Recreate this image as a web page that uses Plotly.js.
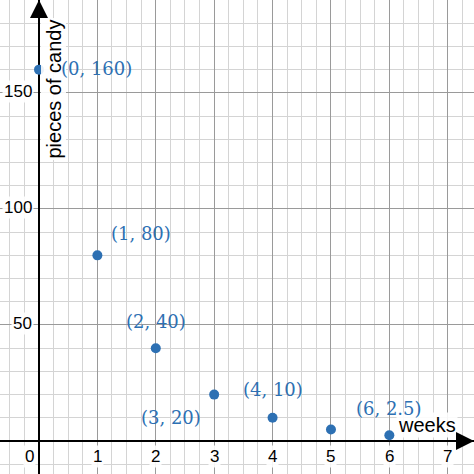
<!DOCTYPE html>
<html>
<head>
<meta charset="utf-8">
<script src="https://cdn.plot.ly/plotly-3.0.1.min.js"></script>
<style>html,body{margin:0;padding:0;background:#fff;}#chart{width:474px;height:474px;}</style>
</head>
<body>
<div id="chart"></div>
<script>
// Data
const weeks = [0, 1, 2, 3, 4, 5, 6];
const candy = [160, 80, 40, 20, 10, 5, 2.5];
const pointLabels = ["(0, 160)", "(1, 80)", "(2, 40)", "(3, 20)", "(4, 10)", "", "(6, 2.5)"];
const xTickVals = [0, 1, 2, 3, 4, 5, 6, 7];
const xTickText = ["0", "1", "2", "3", "4", "5", "6", "7"];
const yTickVals = [50, 100, 150];
const yTickText = ["50", "100", "150"];

// Styling / layout
const blue = "#2d70b3";
const xRange = [-0.668, 7.45];
const yRange = [-14.2, 190];
const labelShift = [[57, 1], [44, 22], [0, 27], [-43, -23], [0, 28], [0, 0], [0, 27]];
const sans = "Liberation Sans, Arial, sans-serif";
const serif = "DejaVu Serif, serif";

const annotations = [];
// axis titles (drawn first so point labels sit on top)
annotations.push({x: xRange[1], y: 0, xref: "x", yref: "y", text: "weeks", showarrow: false,
  xanchor: "right", yanchor: "bottom", xshift: -16, yshift: 3,
  font: {family: sans, size: 20, color: "#000"}, bgcolor: "rgba(255,255,255,0.9)"});
annotations.push({x: 0, y: yRange[1], xref: "x", yref: "y", text: "pieces of candy", showarrow: false,
  textangle: -90, xanchor: "left", yanchor: "top", xshift: 1, yshift: -18,
  font: {family: sans, size: 20, color: "#000"}, bgcolor: "rgba(255,255,255,0.9)"});
xTickVals.forEach((v, i) => {
  annotations.push({
    x: v, y: 0, xref: "x", yref: "y", text: xTickText[i], showarrow: false,
    xshift: v === 0 ? -10 : 0, yshift: -15,
    font: {family: sans, size: 17, color: "#000"}, bgcolor: "rgba(255,255,255,0.9)"
  });
});
yTickVals.forEach((v, i) => {
  annotations.push({
    x: 0, y: v, xref: "x", yref: "y", text: yTickText[i], showarrow: false,
    xanchor: "right", xshift: -5, yshift: 1,
    font: {family: sans, size: 17, color: "#000"}, bgcolor: "rgba(255,255,255,0.9)"
  });
});
pointLabels.forEach((t, i) => {
  if (!t) return;
  annotations.push({
    x: weeks[i], y: candy[i], xref: "x", yref: "y", text: t, showarrow: false,
    xshift: labelShift[i][0], yshift: labelShift[i][1],
    font: {family: serif, size: 18, color: blue}
  });
});
// axis arrows
annotations.push({x: 0, y: yRange[1], ax: 0, ay: yRange[1] - 20, xref: "x", yref: "y", axref: "x", ayref: "y",
  showarrow: true, arrowhead: 2, arrowsize: 1.8, arrowwidth: 2, arrowcolor: "#000", text: ""});
annotations.push({x: xRange[1], y: 0, ax: xRange[1] - 0.4, ay: 0, xref: "x", yref: "y", axref: "x", ayref: "y",
  showarrow: true, arrowhead: 2, arrowsize: 1.8, arrowwidth: 2, arrowcolor: "#000", text: ""});

const trace = {
  x: weeks, y: candy, type: "scatter", mode: "markers",
  marker: {size: 10, color: blue}, hoverinfo: "skip", cliponaxis: false
};

const layout = {
  width: 474, height: 474,
  margin: {l: 0, r: 0, t: 0, b: 0},
  paper_bgcolor: "#fff", plot_bgcolor: "#fff",
  showlegend: false,
  xaxis: {
    range: xRange, tickmode: "linear", tick0: 0, dtick: 1,
    showticklabels: false, ticks: "",
    showgrid: true, gridcolor: "#9a9a9a", gridwidth: 1,
    minor: {dtick: 0.25, tick0: 0, showgrid: true, gridcolor: "#d4d4d4", gridwidth: 1},
    zeroline: true, zerolinecolor: "#000", zerolinewidth: 2, fixedrange: true
  },
  yaxis: {
    range: yRange, tickmode: "linear", tick0: 0, dtick: 50,
    showticklabels: false, ticks: "",
    showgrid: true, gridcolor: "#9a9a9a", gridwidth: 1,
    minor: {dtick: 10, tick0: 0, showgrid: true, gridcolor: "#d4d4d4", gridwidth: 1},
    zeroline: true, zerolinecolor: "#000", zerolinewidth: 2, fixedrange: true
  },
  annotations: annotations
};

Plotly.newPlot("chart", [trace], layout, {displayModeBar: false, staticPlot: true});
</script>
</body>
</html>
